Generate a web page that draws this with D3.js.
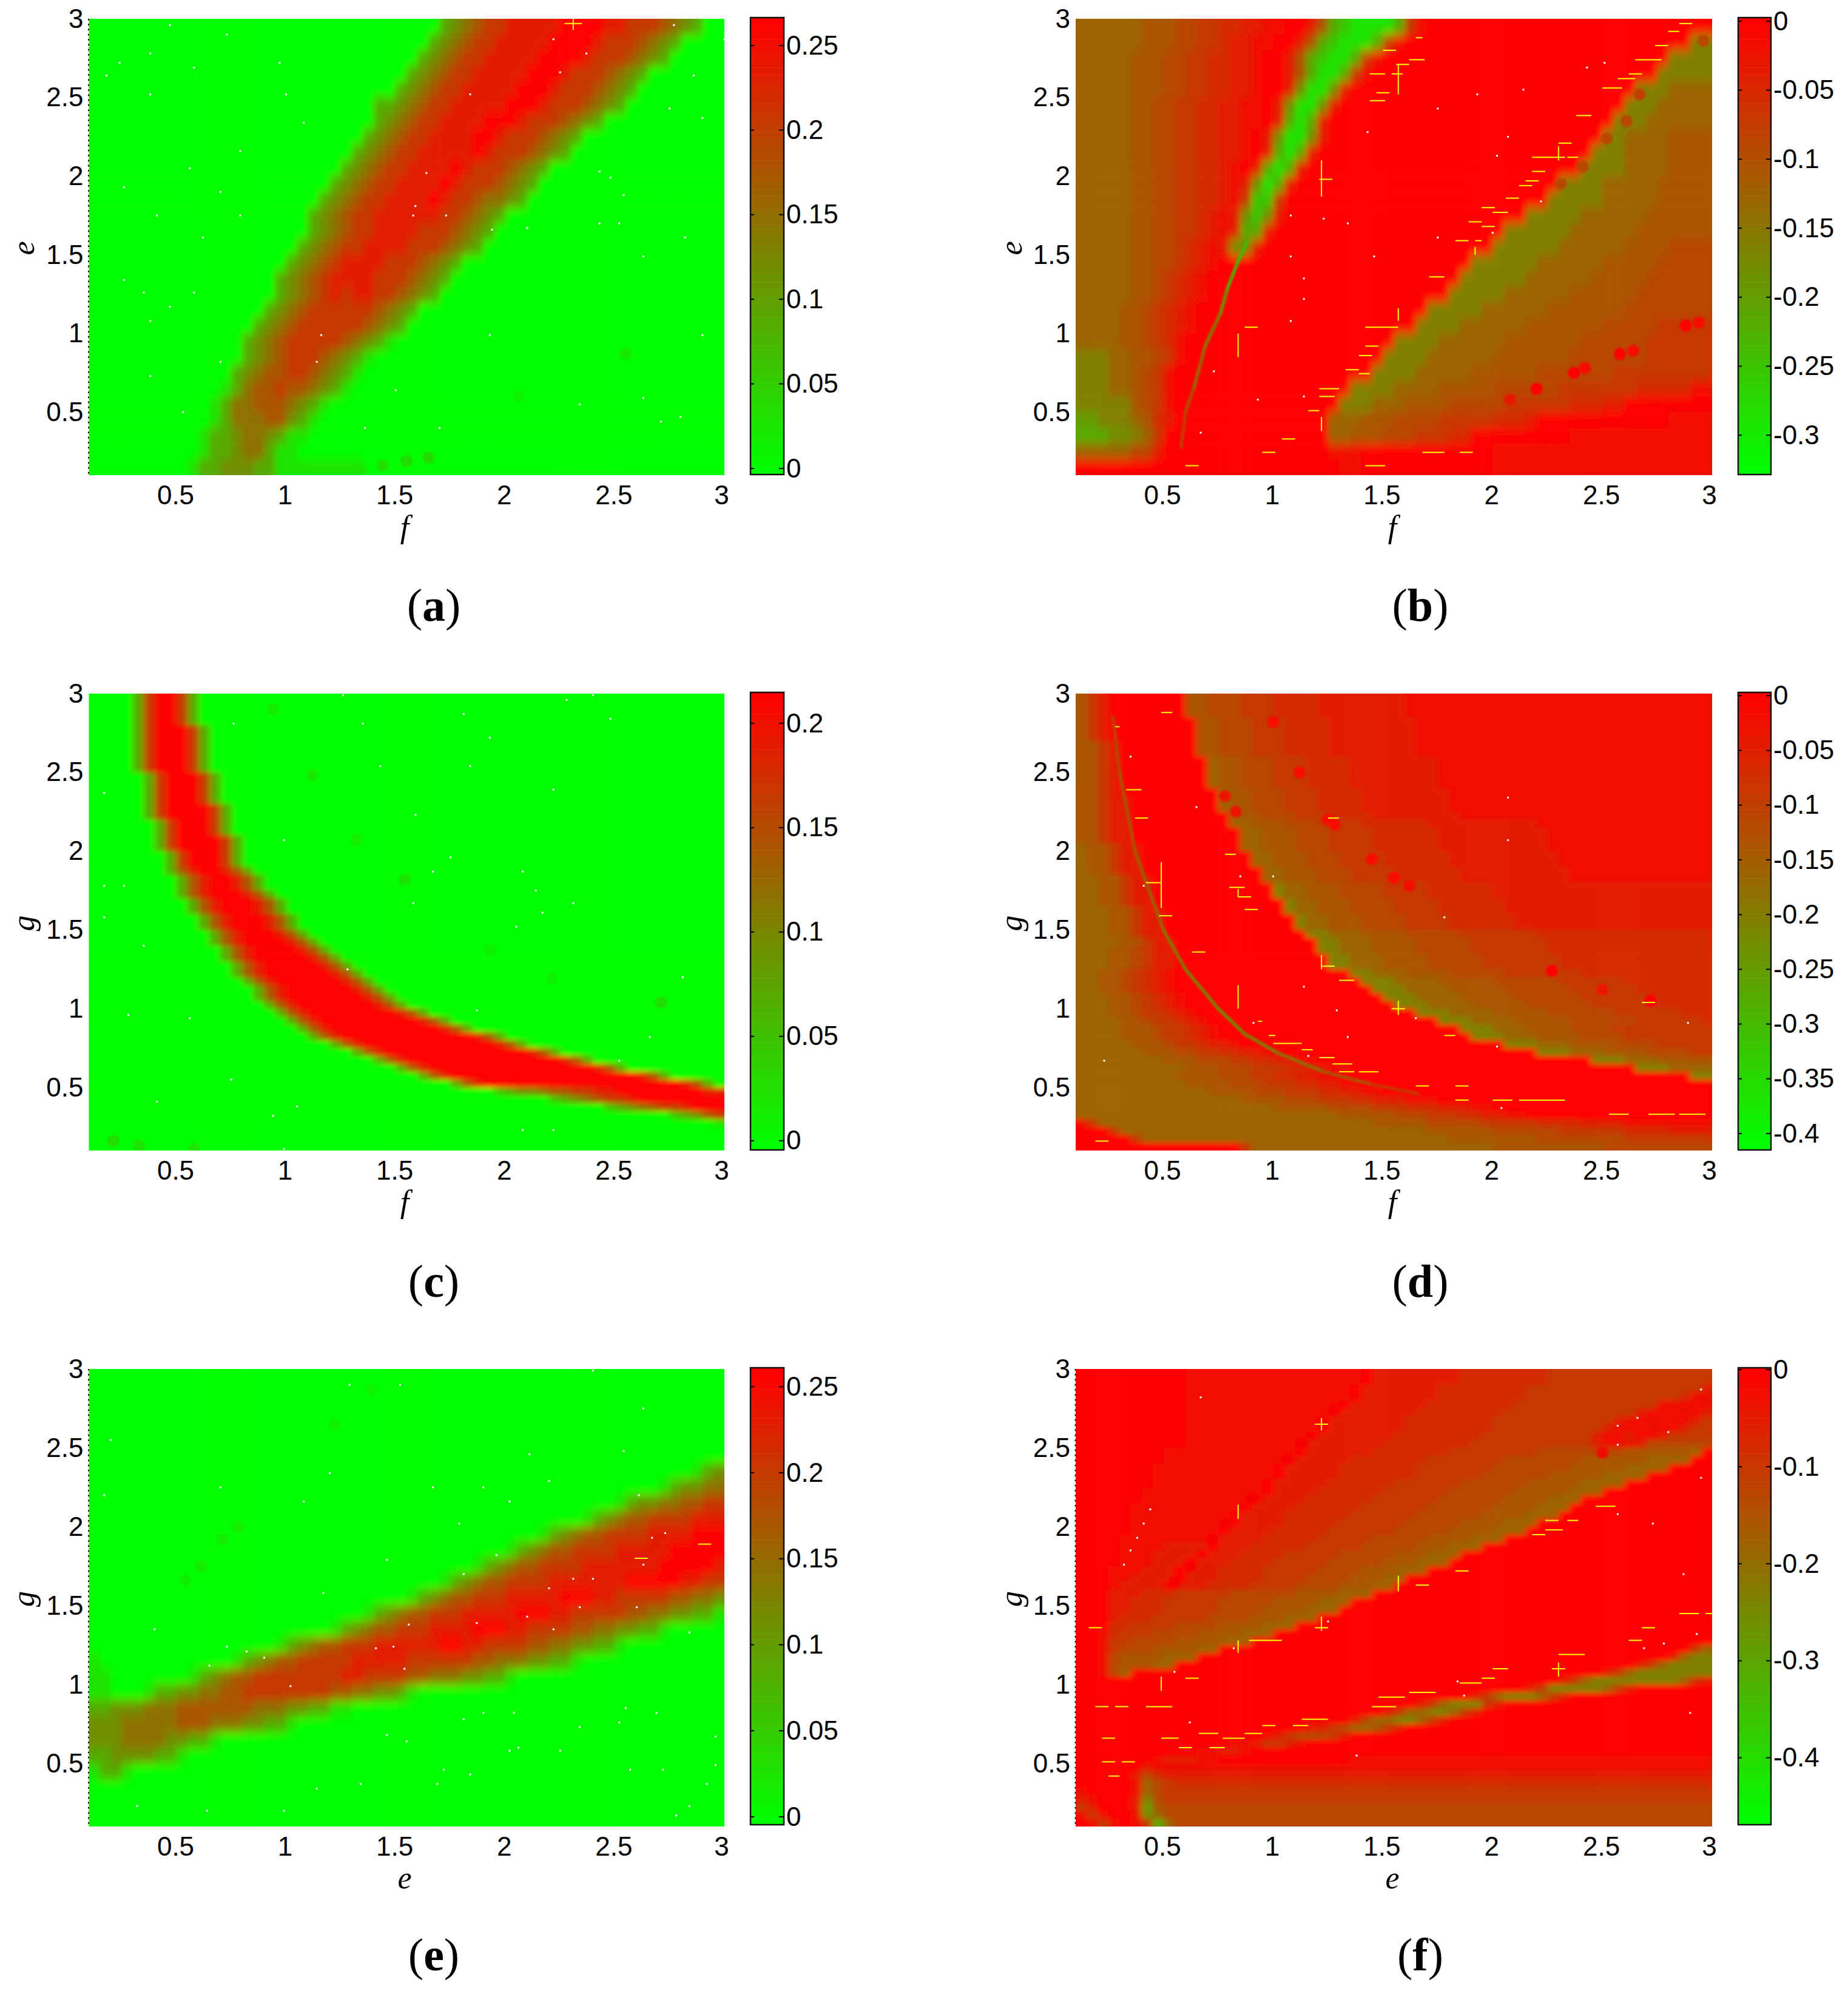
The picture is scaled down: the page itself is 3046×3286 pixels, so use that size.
<!DOCTYPE html>
<html>
<head>
<meta charset="utf-8">
<script src="https://cdn.jsdelivr.net/npm/d3@7"></script>
<style>
    html, body { margin: 0; background: #fff; }
    text { font-family: "Liberation Sans", sans-serif; fill: #000; }
</style>
</head>
<body>
<div id="graph-container"></div>
<script>
// Grid rows run top to bottom, 58 columns from 0.1 to 3.
// Digits are levels 0-9 between the colorbar ends, A-J are half levels (A=0.5 .. I=8.5).
// "9*12" repeats a level, "9*" fills the rest of the row.
const axisTicks = [0.5, 1, 1.5, 2, 2.5, 3]

const gridA = [
    "0*32 345677888889 999 887776543 0*",
    "0*31 3456778888899 99 87776543 0*",
    "0*30 3456778888899 99 87776543 0*",
    "0*29 345677888889 99 87776543 0*",
    "0*28 345677888889 99 87776543 0*",
    "0*26 3345677888889 99 87776543 0*",
    "0*26 34567788889 99 87776543 0*",
    "0*25 34567788889 9 87776543 0*",
    "0*24 34567788888 9 87776543 0*",
    "0*23 3456778888 9 87776543 0*",
    "0*22 3456778888 9 87776543 0*",
    "0*21 3456778888 9 87765543 0*",
    "0*20 345677888 88 8776543 0*",
    "0*20 34567788 88 7776543 0*",
    "0*19 34567788 88 7776543 0*",
    "0*18 3456788 88 7776543 0*",
    "0*17 3456788 88 7776543 0*",
    "0*17 345678 78 8776543 0*",
    "0*16 34567 77 7776543 0*",
    "0*15 34567 77 7776543 0*",
    "0*14 34567 77 7765431 0*",
    "0*14 3456 77 765431 0*",
    "0*13 3456 67 765431 0*",
    "0*12 1356 67 665431 0*",
    "0*11 1355 66 65431 0*",
    "0*11 1355 5 66431 0*",
    "0*10 1334 5 54311 0*",
    "0*10 13345 5 311 0*",
    "0*9 133444331 1111111 0*",
]

const gridB = [
    "F*6 6*3 G*2 7*2 H*2 8*2 I*2 9*2 86321111 37I 9*",
    "F*6 6*3 G*2 7*2 H 8*2 I*2 9*2 8632111 37I 9*26 E*",
    "F*5 6*3 G*2 7*2 H*2 8*2 I 9*2 863211 37I 9*26 E*",
    "F*5 6*3 G*2 7*2 H*2 8*2 I 9*2 86311 37I 9*26 E*",
    "F*5 6*3 G*2 7*2 H*2 8*2 I 9*2 841148 9*26 E*3 F*",
    "F*5 6*2 G*2 7*2 H*2 8*2 I*2 9 841148 9*26 E*3 F*",
    "F*5 6*2 G*2 7*2 H*2 8*2 I*2 9 83138 9*26 E*3 F*",
    "F*5 6*2 G*2 7*2 H*2 8*2 I 9 841148 9*25 E*2 F*4 6*",
    "F*5 6*2 G*2 7*2 H*2 8*2 I 9 83138 9*25 E*3 F*4 6*",
    "F*5 6*2 G*2 7*2 H*2 8 I 9 83138 9*25 E*4 F*4 6*",
    "F*5 6*2 G*2 7*2 H*2 8 I 84138 9*24 E*4 F*5 6*",
    "F*5 6*2 G*2 7*2 H*2 8 I 7227 9*24 E*5 F*5 6*",
    "F*5 6*2 G*2 7*2 H 8 I 84248 9*22 E*5 F*6 6*",
    "F*5 6*2 G*2 7*2 H 8 I 8338 9*21 E*6 F*6 6*",
    "F*5 6*2 G*2 7 H 8 I 8448 9*21 E*6 F*6 6*4 G*",
    "F*5 6*2 G*2 7 H 8 I 9*23 E*6 F*6 6*5 G*",
    "F*5 6*2 G 7 H 8 I 9*23 E*6 F*6 6*5 G*",
    "F*5 6*2 G 7 H 8 I 9*22 E*5 F*6 6*6 G*",
    "F*4 6*2 G 7 H 8 I 9*21 E*5 F*6 6*7 G*",
    "F*4 6*2 G 7 H 8 I 9*20 E*4 F*6 6*7 G*5 7*",
    "F*4 6*2 G 7 H I 9*19 E*4 F*6 6*7 G*6 7*",
    "E*3 F*2 6*2 G 7 I 9*18 E*4 F*6 6*7 G*7 7*",
    "E*3 F*2 6 G 7 I 9*18 E*4 F*5 6*6 G*7 7*",
    "E*3 F*2 6 G 7 I 9*16 E*4 F*4 6*5 G*6 7*7 H*5 I*",
    "E*3 E*2 6 G 7 I 9*15 E*3 F*3 6*4 G*5 7*6 H*3 8*2 9*",
    "D*2 E*2 E F 6 H 8 9*14 F*3 6*3 G*4 7*5 H*3 8 9*12 I*",
    "3*3 4*2 E F 7 9 9*14 F*2 6*3 G*3 7*3 H*2 9*9 I*",
    "F*5 G*2 8 9 9*14 I*3 9*12 I*",
    "9*24 I*2 9*12 I*",
]

const gridC = [
    "0*4 379973 0*",
    "0*4 379973 0*",
    "0*4 379973 0*",
    "0*4 379973 0*",
    "0*4 3799973 0*",
    "0*4 3799973 0*",
    "0*4 3799973 0*",
    "0*4 3799973 0*",
    "0*4 3799973 0*",
    "0*4 3799973 0*",
    "0*5 3799973 0*",
    "0*5 3799973 0*",
    "0*5 3799973 0*",
    "0*5 3799973 0*",
    "0*5 37999973 0*",
    "0*5 37999973 0*",
    "0*6 3799973 0*",
    "0*6 3799973 0*",
    "0*6 37999973 0*",
    "0*6 37999973 0*",
    "0*7 3799973 0*",
    "0*7 3799973 0*",
    "0*7 368 9*2 863 0*",
    "0*8 368 9*2 863 0*",
    "0*8 368 9*2 863 0*",
    "0*8 368 9*3 863 0*",
    "0*9 368 9*3 863 0*",
    "0*9 368 9*3 863 0*",
    "0*10 368 9*3 863 0*",
    "0*10 368 9*3 863 0*",
    "0*11 368 9*3 863 0*",
    "0*11 368 9*4 863 0*",
    "0*12 368 9*4 863 0*",
    "0*12 368 9*5 863 0*",
    "0*13 368 9*5 863 0*",
    "0*13 368 9*6 863 0*",
    "0*14 368 9*6 863 0*",
    "0*15 368 9*6 863 0*",
    "0*15 368 9*7 863 0*",
    "0*16 368 9*7 863 0*",
    "0*17 368 9*8 863 0*",
    "0*18 368 9*9 863 0*",
    "0*19 368 9*10 863 0*",
    "0*20 368 9*12 863 0*",
    "0*22 368 9*12 863 0*",
    "0*24 368 9*13 863 0*",
    "0*26 368 9*14 863 0*",
    "0*28 368 9*15 863 0*",
    "0*30 368 9*17 863 0*",
    "0*33 368 9*18 863 0*",
    "0*37 234456677889 9*7 8*",
    "0*42 23456778 9*",
    "0*47 23456778 9*",
    "0*53 23467",
    "0*57 1",
    "0*",
    "0*",
    "0*",
]

const d1 = "6*2 G*3 7*3 H*4 8*8 I*"
const d2 = "F 6*2 G*3 7*3 H*4 8*8 I*"
const d3r = "F*2 6*3 G*3 7*4 H*6 8*10 I*"
const d4 = "E F*2 6*3 G*4 7*4 H*6 8*"
const d5 = "E*2 F*3 6*4 G*5 7*7 H*"
const d6 = "E*3 F*4 6*5 G*6 7*6 H*"
const d7 = "E*3 F*3 6*4 G*4 7*"
const d8 = "E*3 F*3 6*"

const gridD = [
    `678 9*7 ${d1}`,
    `678 9*7 ${d1}`,
    `678 9*7 ${d1}`,
    `678 9*8 ${d1}`,
    `678 9*8 ${d1}`,
    `678 9*8 ${d1}`,
    `6678 9*7 ${d1}`,
    `6678 9*7 ${d1}`,
    `6678 9*8 ${d2}`,
    `6678 9*8 ${d2}`,
    `6678 9*8 ${d2}`,
    `6678 9*8 ${d2}`,
    `6678 9*9 ${d2}`,
    `66788 9*8 ${d2}`,
    `66788 9*8 ${d2}`,
    `66788 9*9 ${d2}`,
    `66788 9*9 ${d3r}`,
    `66788 9*10 ${d3r}`,
    `66788 9*10 ${d3r}`,
    `F66788 9*9 ${d3r}`,
    `F66788 9*10 ${d3r}`,
    `F66788 9*10 ${d3r}`,
    `F66788 9*11 ${d3r}`,
    `FF66788 9*10 ${d3r}`,
    `FF66788 9*11 ${d4}`,
    `FF66788 9*11 ${d4}`,
    `FF66788 9*12 ${d4}`,
    `FFF66788 9*11 ${d4}`,
    `FFF66788 9*12 ${d4}`,
    `FFF66788 9*12 ${d4}`,
    `FFF66788 9*13 ${d5}`,
    `FFFF66788 9*13 ${d5}`,
    `FFF66G788 9*13 ${d5}`,
    `FFF66G788 9*14 ${d5}`,
    `FFF66G788 9*14 ${d5}`,
    `FF66G7H8I99 9*14 ${d5}`,
    `FF66G7H8I99 9*15 ${d6}`,
    `FF66G7H8I999 9*15 ${d6}`,
    `FFF66G7H8I999 9*15 ${d6}`,
    `FFF66G7H8I999 9*16 ${d6}`,
    `FFF66G77H8I999 9*17 ${d6}`,
    `FFFF66G77H8I999 9*18 ${d6}`,
    `FFFF666G77H8I999 9*19 ${d7}`,
    `FFFF666G77H8I999 9*20 ${d7}`,
    `FFFFF666G77H88I999 9*21 ${d7}`,
    `F*6 6*3 G*2 7*2 H*2 8*2 I*2 9 9*22 ${d7}`,
    `F*8 6*3 G*3 7*2 H*2 8*2 I*2 9 9*24 ${d8}`,
    "F*10 6*3 G*3 7*3 H*2 8*2 I*2 9 9*25 E*3 F*",
    "F*9 6*4 G*3 7*2 H*2 8*2 I*2 9*32 E*",
    "F*10 6*4 G*3 7*3 H*2 8*2 I*2 9*",
    "F*12 6*4 G*3 7*3 H*2 8*2 I*2 9*",
    "F*15 6*4 G*3 7*3 H*2 8*3 I*3 9*",
    "F*18 6*5 G*4 7*3 H*3 8*3 I*2 9*",
    "F*24 6*5 G*3 7*3 H*2 8*2 I*2 9*",
    "I 7 F*25 6*5 G*5 7*5 H*4 8*4 I*",
    "9*3 7 F*28 6*6 G*6 7*6 H*4 8*",
    "9*5 7 F*28 6*8 G*8 7*",
    "9*15 7 F*22 6*10 G*",
]

const gridE = [
    "0*",
    "0*",
    "0*",
    "0*",
    "0*",
    "0*",
    "0*55 134",
    "0*52 134455",
    "0*48 1344556677",
    "0*45 1345667777888",
    "0*41 13456677778888999",
    "0*38 13456677778888 899999",
    "0*35 1345667777888888 8999998",
    "0*32 134566777788888 88999998877",
    "0*29 134566777888 88999887777766554",
    "0*25 1345667778888 89998877777665544331",
    "0*22 134566777888 8999887777665544331 0*",
    "0*17 1345667778888 8899887777665544331 0*",
    "1 0*12 1345667777788 8887777776655544331 0*",
    "1*2 0*7 1345667777777 78877776655544331 0*",
    "1*2 0*3 13344556677 77777766554431 0*",
    "3344455566 66666555443311 0*",
    "4445555566 655544331 0*",
    "444555544331 0*",
    "334444331 0*",
    "1331 0*",
    "0*",
    "0*",
    "0*",
]

const gridF = [
    "9*10 I*16 9 8*8 H*8 7*",
    "9*10 I*16 9 8*8 H*8 7*",
    "9*10 I*15 9 8*7 H*8 7*16 8",
    "9*10 I*15 9 8*7 H*8 7*14 H I*2",
    "9*10 I*14 9 8*7 H*8 7*13 I*5",
    "9*10 I*13 9 8*7 H*8 7*12 8 I*5 8",
    "9*10 I*12 9 8*7 H*8 7*11 8 I*6 8 7",
    "9*10 I*12 9 8*7 H*8 7*10 8 I*6 8 7*",
    "9*10 I*11 9 8*7 H*8 7*10 8 I*5 8 7*",
    "9*10 I*10 9 8*7 H*8 7*11 8 I*3 8 G*",
    "9*8 I*12 9 8*6 H*7 7*8 G*8 6*6 F 9*",
    "9*8 I*11 9 8*5 H*7 7*7 G*7 6*6 F*4 9*",
    "9*7 I*11 9 8*5 H*7 7*7 G*7 6*5 F*4 9*",
    "9*7 I*11 9 8*5 H*7 7*6 G*6 6*5 F*4 9*",
    "9*7 I*10 9 8*5 H*6 7*6 G*6 6*5 F*4 9*",
    "9*6 I*11 9 8*4 H*6 7*6 G*6 6*5 F*3 9*",
    "9*6 I*10 9 8*4 H*6 7*6 G*6 6*4 F*3 9*",
    "9*5 I*10 9 8*4 H*6 7*6 G*6 6*4 F*3 9*",
    "9*5 I*9 9 8*4 H*6 7*6 G*6 6*4 F*3 9*",
    "9*5 I*9 9 8*4 H*5 7*6 G*5 6*4 F*3 9*",
    "9*5 I*8 9 8*4 H*5 7*6 G*5 6*4 F*3 9*",
    "9*4 I*8 9 8*4 H*5 7*5 G*5 6*4 F*3 9*",
    "9*4 I*4 8*4 9 8*3 H*5 7*5 G*5 6*3 F*3 9*",
    "9*4 I*3 8*4 9 8*3 H*4 7*5 G*5 6*3 F*3 9*",
    "9*4 I*3 8*3 9 8*3 H*4 7*5 G*5 6*3 F*3 9*",
    "9*3 I*3 8*3 9 8*3 H*4 7*5 G*4 6*3 F*3 9*",
    "9*3 I*2 8*4 9 8*3 H*4 7*4 G*4 6*3 F*2 9*",
    "9*3 I 8*4 9 8*3 H*4 7*4 G*4 6*3 F*2 9*",
    "9*3 8*3 H*3 7*5 G*6 6*4 F*3 9*",
    "9*3 8*2 H*3 7*5 G*5 6*4 F*3 9*",
    "9*3 8*2 H*3 7*5 G*4 6*4 F*3 9*",
    "9*3 8 H*3 7*5 G*4 6*3 F*3 9*",
    "9*3 H*2 7*4 G*4 6*4 F*3 9*",
    "9*2 I H 7*3 G*4 6*4 F*3 9*",
    "9*2 I 7*2 G*4 6*4 F*3 9*",
    "9*2 I 7 G*3 6*4 F*2 9*43 7 F",
    "9*2 I G 6*4 F*3 9*43 8 F E*2",
    "9*2 I G 6*3 F*2 9*42 8 7 F E*4",
    "9*2 I G F 9*43 8 7 F E*7",
    "9*44 8 7 F E*8 F H 8",
    "9*41 8 7 E*5 F 7 8 9*",
    "9*36 8 7 F E*3 F 7 8 9*",
    "9*31 8 7 F E*3 7 8 9*",
    "9*28 8 7 F*2 E*2 F 7 8 9*",
    "9*25 8 G F*2 E*2 F 7 8 9*",
    "9*21 8*2 7 G F*2 6 7 8 9*",
    "9*17 I 8 7 G*3 7 8 9*",
    "9*14 I*2 8 7*2 8 I 9*",
    "9*11 I*2 8*2 I 9*",
    "9*7 I 8*3 I*2 9*12 I*",
    "9*6 8 I*",
    "9*5 8 G H 8*",
    "9*5 I F G 7 H*",
    "I 9*4 I F G 7*",
    "8 I 9*3 8 E G 7*",
    "7 8 9*3 8 D 6 G*",
    "I 7 I 9*2 I 4 F G*",
    "9 I 7 I 9 I 7 3 F G*",
]

// Thin ridges [x, y, value]
const ridgeB = [[.58, .28, -.07], [.6, .5, -.09], [.64, .66, -.12], [.69, .92, -.14], [.76, 1.13, -.17], [.79, 1.28, -.2], [.84, 1.46, -.23], [.88, 1.58, -.25]]
const ridgeD = [[.27, 2.85, -.1], [.3, 2.5, -.12], [.37, 2, -.14], [.5, 1.5, -.17], [.6, 1.25, -.19], [.75, 1, -.2], [.87, .84, -.19], [1.02, .72, -.16], [1.23, .6, -.12], [1.45, .52, -.08], [1.66, .46, -.04]]

// Yellow dashes [x0, x1, y] and strokes [x, y0, y1] in axis units
const dashesA = [[2.27, 2.35, 2.97]]
const strokesA = [[2.31, 2.93, 3]]
const dashesB = [
    [.6, .66, .16], [1.42, 1.51, .16], [.95, 1.01, .245], [1.68, 1.78, .245], [1.85, 1.91, .245], [1.04, 1.1, .33],
    [1.16, 1.21, .51], [1.21, 1.28, .6], [1.21, 1.3, .65], [1.39, 1.44, .745], [1.33, 1.39, .77], [1.39, 1.45, .86],
    [1.42, 1.48, .92], [1.42, 1.57, 1.04], [.87, .93, 1.04], [1.71, 1.78, 1.36], [1.83, 1.89, 1.59], [1.92, 1.95, 1.59],
    [1.89, 1.95, 1.71], [1.95, 2.01, 1.68], [1.95, 2.01, 1.8], [2, 2.07, 1.77], [2.06, 2.12, 1.86], [2.12, 2.18, 1.94],
    [2.15, 2.21, 1.97], [2.18, 2.24, 2.03], [2.18, 2.33, 2.12], [2.34, 2.39, 2.12], [2.3, 2.36, 2.21], [2.38, 2.45, 2.385],
    [2.5, 2.59, 2.56], [2.57, 2.65, 2.62], [2.62, 2.68, 2.65], [2.65, 2.77, 2.74], [2.74, 2.8, 2.83], [2.8, 2.85, 2.92],
    [2.85, 2.91, 2.97], [1.21, 1.27, 1.98], [1.44, 1.51, 2.48], [1.47, 1.53, 2.53], [1.44, 1.51, 2.65], [1.56, 1.62, 2.71],
    [1.54, 1.59, 2.65], [1.5, 1.56, 2.8], [1.62, 1.69, 2.74], [1.65, 1.68, 2.88],
]
const strokesB = [[1.57, 2.52, 2.71], [1.22, 1.87, 2.1], [.84, .85, 1], [1.57, 1.08, 1.16], [1.22, .38, .47], [2.3, 2.1, 2.19], [1.92, 1.5, 1.55]]
const dashesC = []
const strokesC = []
const dashesD = [
    [.19, .25, .16], [.49, .54, 2.88], [.28, .3, 2.79], [.33, .4, 2.39], [.37, .43, 2.21], [.78, .83, 1.98], [.8, .87, 1.77],
    [.84, .9, 1.71], [.87, .93, 1.63], [.42, .49, 1.8], [.48, .54, 1.59], [.63, .69, 1.36], [1.22, 1.28, 1.27], [1.3, 1.37, 1.18],
    [1.25, 1.3, 2.21], [.93, .95, .92], [.98, 1.01, .83], [1, 1.13, .78], [1.13, 1.18, .74], [1.21, 1.28, .69], [1.27, 1.36, .65],
    [1.3, 1.37, .6], [1.39, 1.48, .6], [1.65, 1.71, .51], [1.83, 1.89, .51], [1.83, 1.89, .42], [2, 2.09, .42], [2.12, 2.33, .42],
    [2.53, 2.62, .33], [2.71, 2.83, .33], [2.85, 2.97, .33], [1.78, 1.83, .83], [1.54, 1.6, 1], [2.68, 2.74, 1.04],
]
const strokesD = [[.49, 1.64, 1.93], [.84, 1, 1.15], [1.57, .96, 1.05], [1.22, 1.25, 1.34], [.84, 1.71, 1.76]]
const dashesE = [[2.59, 2.65, 1.8], [2.88, 2.94, 1.89]]
const strokesE = []
const dashesF = [
    [.16, .22, 1.36], [.19, .25, .86], [.28, .34, .86], [.42, .54, .86], [.22, .28, .66], [.22, .28, .51], [.31, .37, .51],
    [.25, .3, .42], [.49, .57, .66], [.57, .63, .6], [.66, .75, .69], [.71, .78, .6], [.77, .87, .66], [.87, .95, .69],
    [.95, 1.01, .74], [1.09, 1.16, .74], [1.13, 1.25, .78], [.6, .66, 1.04], [.89, 1.04, 1.28], [1.45, 1.56, .86], [1.48, 1.6, .92],
    [1.62, 1.74, .95], [1.85, 1.95, 1.01], [1.95, 2.01, 1.04], [2, 2.07, 1.1], [2.27, 2.33, 1.1], [2.3, 2.42, 1.19], [2.62, 2.68, 1.28],
    [2.68, 2.74, 1.36], [2.85, 2.94, 1.45], [2.97, 3, 1.45], [1.65, 1.71, 1.63], [1.83, 1.89, 1.72], [2.18, 2.24, 1.95], [2.24, 2.32, 1.98],
    [2.24, 2.3, 2.04], [2.34, 2.39, 2.04], [2.47, 2.56, 2.13], [1.19, 1.25, 1.36], [1.19, 1.25, 2.65],
]
const strokesF = [[.49, .96, 1.05], [.84, 1.2, 1.28], [.84, 2.05, 2.14], [1.22, 2.61, 2.69], [1.22, 1.34, 1.43], [1.57, 1.59, 1.69], [2.3, 1.05, 1.14]]

// Isolated white cells [x, y]
const dotsA = [[.47, 2.96], [.73, 2.9], [.38, 2.78], [.24, 2.72], [.58, 2.69], [.97, 2.72], [.18, 2.64], [.38, 2.52], [1, 2.52], [1.08, 2.34], [.79, 2.16], [.56, 2.05], [.26, 1.93], [.7, 1.9], [.41, 1.75], [.79, 1.75], [.62, 1.61], [.26, 1.34], [.35, 1.26], [.58, 1.26], [.47, 1.17], [.38, 1.08], [.7, .82], [.38, .73], [.53, .5], [1.5, .64], [1.36, .4], [1.7, .4], [2.34, .55], [2.63, .59], [2.8, .47], [2.71, .44], [2.77, 2.96], [3, 2.87], [2.86, 2.64], [2.75, 2.43], [2.9, 2.37], [2.43, 2.03], [2.48, 1.99], [2.54, 1.88], [2.43, 1.7], [2.52, 1.7], [2.1, 1.67], [1.94, 1.66], [2.82, 1.61], [2.63, 1.49], [2.9, .99], [1.93, .99], [1.14, .82], [1.16, .99], [1.64, 2.02], [1.59, 1.81], [1.58, 1.75], [1.73, 1.75], [2.22, 2.87], [2.37, 2.78], [2.25, 2.66], [1.84, 2.52]]
const dotsB = [[2.43, 2.69], [2.51, 2.72], [2.14, 2.55], [1.93, 2.52], [1.75, 2.43], [1.43, 2.28], [2.07, 2.25], [2.02, 2.13], [2.22, 1.84], [1.08, 1.75], [1.23, 1.73], [1.34, 1.7], [2, 1.64], [1.75, 1.61], [1.08, 1.49], [1.46, 1.49], [1.14, 1.35], [1.14, 1.22], [1.08, 1.08], [.73, .76], [.93, .58], [.67, .37], [1.14, .6]]
const dotsC = [[1.26, 2.99], [2.28, 2.96], [2.4, 2.99], [1.81, 2.87], [2.48, 2.84], [.76, 2.81], [1.35, 2.81], [1.93, 2.72], [1.43, 2.54], [1.84, 2.54], [2.22, 2.39], [.17, 2.37], [1.59, 2.23], [.99, 2.07], [1.75, 1.96], [2.08, 1.87], [1.67, 1.87], [.17, 1.78], [.26, 1.78], [2.14, 1.75], [1.58, 1.67], [2.31, 1.67], [2.17, 1.61], [.17, 1.58], [2.05, 1.52], [.35, 1.4], [1.28, 1.25], [2.81, 1.2], [.28, .96], [1.87, .99], [.56, .94], [2.66, .82], [2.52, .67], [.75, .55], [.41, .41], [.94, .32], [1.05, .38], [2.08, .23], [2.22, .23], [.99, .11]]
const dotsD = [[2.07, 2.34], [2.07, 2.07], [1, 1.84], [.85, 1.84], [.65, 2.28], [.35, 2.6], [.41, 1.78], [1.78, 1.58], [2.89, .91], [1.29, .99], [1.14, 1.14], [1.65, .94], [1.34, .82], [.23, .67], [2.02, .76], [1.16, .7], [.91, .91], [2.04, .37]]
const dotsE = [[1.29, 2.9], [1.52, 2.9], [2.4, 2.99], [2.63, 2.75], [.2, 2.55], [2.11, 2.46], [2.54, 2.48], [1.2, 2.34], [2.2, 2.29], [.7, 2.25], [1.67, 2.25], [1.9, 2.25], [.17, 2.2], [1.08, 2.16], [2.02, 2.16], [2.61, 2.2], [1.79, 2.02], [2.73, 1.96], [2.67, 1.93], [1.96, 1.82], [1.46, 1.79], [2.63, 1.76], [1.81, 1.7], [2.31, 1.67], [2.4, 1.67], [2.2, 1.61], [1.17, 1.58], [2.6, 1.49], [2.34, 1.49], [2.1, 1.43], [1.87, 1.39], [1.56, 1.38], [2.22, 1.35], [2.84, 1.33], [.4, 1.35], [1.41, 1.23], [1.49, 1.24], [.73, 1.24], [.82, 1.21], [.9, 1.17], [.65, 1.12], [1.54, 1.1], [1.02, .99], [2.55, .85], [1.9, .82], [2.04, .82], [2.69, .82], [1.81, .78], [2.52, .76], [2.34, .73], [1.46, .68], [1.55, .64], [2.96, .67], [2.06, .6], [2.02, .58], [2.25, .58], [2.96, .49], [1.72, .46], [2.72, .46], [2.57, .46], [1.84, .43], [1.34, .37], [1.69, .37], [2.92, .37], [1.14, .34], [.32, .23], [.64, .2], [.99, .2], [2.84, .23], [2.78, .17]]
const dotsF = [[.67, 2.82], [2.95, 2.87], [2.66, 2.69], [2.57, 2.64], [2.8, 2.6], [2.57, 2.52], [2.95, 2.31], [.44, 2.11], [.41, 2.02], [.38, 1.93], [2.73, 2.02], [2.57, 2.08], [.35, 1.85], [.32, 1.76], [2.87, 1.7], [1.25, 1.4], [2.93, 1.32], [2.78, 1.26], [2.69, 1.23], [.82, 1.23], [.55, 1.08], [1.84, 1.02], [1.87, .93], [.62, .76], [2.9, .82], [1.38, .55]]

// Round blobs [x, y, value]
const spotsA = [[1.34, .13, .025], [1.44, .16, .03], [1.55, .19, .035], [1.65, .21, .035], [2.55, .87, .02], [2.06, .6, .01]]
const spotsB = [[2.88, 1.05, 0], [2.94, 1.07, -.01], [2.58, .87, 0], [2.64, .89, -.01], [2.37, .75, 0], [2.42, .78, -.01], [2.2, .65, 0], [2.08, .58, -.03], [2.96, 2.86, -.09], [2.67, 2.52, -.08], [2.61, 2.35, -.09], [2.52, 2.24, -.09], [2.41, 2.06, -.09], [2.31, 1.95, -.09]]
const spotsC = [[.21, .16, .025], [.33, .13, .02], [.58, .11, .02], [2.71, 1.04, .025], [1.54, 1.82, .02], [1.12, 2.48, .015], [.94, 2.9, .012], [1.32, 2.07, .012], [1.93, 1.37, .008], [2.21, 1.19, .008]]
const spotsD = [[2.27, 1.24, 0], [2.72, 1.05, 0], [2.5, 1.12, -.03], [1.25, 2.2, -.01], [1.28, 2.17, -.01], [1.45, 1.95, -.01], [1.55, 1.83, -.01], [1.62, 1.78, -.02], [1, 2.82, -.01], [1.12, 2.5, -.01], [.78, 2.35, -.03], [.83, 2.25, -.03]]
const spotsE = [[.54, 1.66, .012], [.61, 1.75, .015], [.71, 1.92, .015], [.78, 2, .015], [1.22, 2.65, .01], [1.39, 2.87, .008]]
const spotsF = [[.55, 1.65, -.01], [.62, 1.75, -.01], [.72, 1.92, -.01], [.78, 2.02, -.01], [.9, 2.18, -.01], [1.06, 2.43, -.01], [1.13, 2.53, -.01], [1.22, 2.65, -.01], [1.28, 2.75, -.01], [2.5, 2.47, -.03], [2.74, 2.65, -.03], [2.87, 2.75, -.03], [2.97, 2.8, -.03], [2.62, 2.57, -.05]]

const extentA = [-0.0036, 0.2665]
const extentB = [-0.3285, 0.0026]
const extentC = [-0.0044, 0.2148]
const extentD = [-0.415, 0.003]
const extentE = [-0.0046, 0.261]
const extentF = [-0.469, 0.002]

const barTicksA = [0, 0.05, 0.1, 0.15, 0.2, 0.25]
const barTicksB = [-0.3, -0.25, -0.2, -0.15, -0.1, -0.05, 0]
const barTicksC = [0, 0.05, 0.1, 0.15, 0.2]
const barTicksD = [-0.4, -0.35, -0.3, -0.25, -0.2, -0.15, -0.1, -0.05, 0]
const barTicksE = [0, 0.05, 0.1, 0.15, 0.2, 0.25]
const barTicksF = [-0.4, -0.3, -0.2, -0.1, 0]

const width = 3046
const height = 3286
const nCols = 58
const fontSize = 44

const leftCol = { x0: 146.5, x1: 1194, bar0: 1237, bar1: 1292, cx: 667, cap: 715, yLabel: 40 }
const rightCol = { x0: 1773, x1: 2822, bar0: 2865, bar1: 2919, cx: 2295, cap: 2341, yLabel: 1668 }
const row1 = { y0: 31, y1: 783, b0: 29, b1: 782, title: 872, capY: 1023 }
const row2 = { y0: 1143, y1: 1896, b0: 1141, b1: 1895, title: 1984, capY: 2137 }
const row3 = { y0: 2256, y1: 3010, b0: 2254, b1: 3007, title: 3098, capY: 3247 }

const panels = [
    { id: "a", col: leftCol, row: row1, grid: gridA, extent: extentA, barTicks: barTicksA, xName: "f", yName: "e", dashes: dashesA, strokes: strokesA, dots: dotsA, spots: spotsA, ridge: [], dotted: true },
    { id: "b", col: rightCol, row: row1, grid: gridB, extent: extentB, barTicks: barTicksB, xName: "f", yName: "e", dashes: dashesB, strokes: strokesB, dots: dotsB, spots: spotsB, ridge: ridgeB },
    { id: "c", col: leftCol, row: row2, grid: gridC, extent: extentC, barTicks: barTicksC, xName: "f", yName: "g", dashes: dashesC, strokes: strokesC, dots: dotsC, spots: spotsC, ridge: [] },
    { id: "d", col: rightCol, row: row2, grid: gridD, extent: extentD, barTicks: barTicksD, xName: "f", yName: "g", dashes: dashesD, strokes: strokesD, dots: dotsD, spots: spotsD, ridge: ridgeD },
    { id: "e", col: leftCol, row: row3, grid: gridE, extent: extentE, barTicks: barTicksE, xName: "e", yName: "g", dashes: dashesE, strokes: strokesE, dots: dotsE, spots: spotsE, ridge: [], dotted: true },
    { id: "f", col: rightCol, row: row3, grid: gridF, extent: extentF, barTicks: barTicksF, xName: "e", yName: "g", dashes: dashesF, strokes: strokesF, dots: dotsF, spots: spotsF, ridge: [], dotted: true },
]

function parseLevel(ch) {
    const code = ch.charCodeAt(0)
    return code >= 65 ? code - 65 + 0.5 : Number(ch)
}

function parseRow(str) {
    const out = []
    str.split(" ").forEach(tok => {
        if (tok.includes("*")) {
            const [ch, n] = tok.split("*")
            const count = n === "" ? nCols - out.length : Number(n)
            for (let i = 0; i < count; i++) out.push(parseLevel(ch))
        } else {
            for (const ch of tok) out.push(parseLevel(ch))
        }
    })
    while (out.length < nCols) out.push(out[out.length - 1])
    return out.slice(0, nCols)
}

const svg = d3.create("svg")
    .attr("width", width)
    .attr("height", height)
    .attr("viewBox", [0, 0, width, height])

const defs = svg.append("defs")

function drawPanel(p) {
    const { col, row } = p
    const x = d3.scaleLinear().domain([0.1, 3]).range([col.x0, col.x1])
    const y = d3.scaleLinear().domain([0.1, 3]).range([row.y1, row.y0])
    const barY = d3.scaleLinear().domain(p.extent).range([row.b1, row.b0])
    const color = d3.scaleLinear().domain(p.extent).range(["#00ff00", "#ff0000"])
    const levelToValue = d3.scaleLinear().domain([0, 9]).range(p.extent)

    const rows = p.grid.map(parseRow)
    const xBand = d3.scaleBand().domain(d3.range(nCols)).range([col.x0, col.x1])
    const yBand = d3.scaleBand().domain(d3.range(rows.length)).range([row.y0, row.y1])
    const bw = xBand.bandwidth()
    const bh = yBand.bandwidth()

    // Clip and smoothing for the cells.
    defs.append("clipPath").attr("id", `clip-${p.id}`)
        .append("rect")
        .attr("x", col.x0).attr("y", row.y0)
        .attr("width", col.x1 - col.x0).attr("height", row.y1 - row.y0)
    const pad = 60
    defs.append("filter").attr("id", `smooth-${p.id}`)
        .attr("filterUnits", "userSpaceOnUse")
        .attr("x", col.x0 - pad).attr("y", row.y0 - pad)
        .attr("width", col.x1 - col.x0 + 2 * pad).attr("height", row.y1 - row.y0 + 2 * pad)
        .append("feGaussianBlur")
        .attr("stdDeviation", `${bw * 0.3} ${bh * 0.32}`)
    defs.append("filter").attr("id", `soft-${p.id}`)
        .append("feGaussianBlur").attr("stdDeviation", 1.5)

    const plot = svg.append("g").attr("clip-path", `url(#clip-${p.id})`)

    // Add a cell for each grid value. Border cells run past the clip so the blur keeps its colour.
    const cells = plot.append("g").attr("filter", `url(#smooth-${p.id})`)
    rows.forEach((vals, r) => {
        cells.selectAll(null)
            .data(vals)
            .join("rect")
            .attr("x", (d, c) => c === 0 ? col.x0 - pad : xBand(c))
            .attr("y", yBand(r) - (r === 0 ? pad : 0))
            .attr("width", (d, c) => (c === 0 || c === nCols - 1 ? bw + pad : bw) + 0.5)
            .attr("height", bh + 0.5 + (r === 0 || r === rows.length - 1 ? pad : 0))
            .attr("fill", d => color(levelToValue(d)))
    })

    // Add the ridge, one stroke per segment so its colour can follow the values.
    plot.append("g").attr("filter", `url(#soft-${p.id})`)
        .selectAll("line")
        .data(d3.pairs(p.ridge))
        .join("line")
        .attr("x1", d => x(d[0][0]))
        .attr("y1", d => y(d[0][1]))
        .attr("x2", d => x(d[1][0]))
        .attr("y2", d => y(d[1][1]))
        .attr("stroke", d => color(d[0][2]))
        .attr("stroke-width", 6)
        .attr("stroke-linecap", "round")

    // Add the blobs.
    plot.append("g").attr("filter", `url(#soft-${p.id})`)
        .selectAll("circle")
        .data(p.spots)
        .join("circle")
        .attr("cx", d => x(d[0]))
        .attr("cy", d => y(d[1]))
        .attr("r", 10)
        .attr("fill", d => color(d[2]))

    // White cells and yellow marks.
    plot.append("g").selectAll("rect")
        .data(p.dots)
        .join("rect")
        .attr("x", d => x(d[0]) - 1.5)
        .attr("y", d => y(d[1]) - 1.5)
        .attr("width", 3)
        .attr("height", 3)
        .attr("fill", "#fff")
    plot.append("g").selectAll("line")
        .data(p.dashes)
        .join("line")
        .attr("x1", d => x(d[0]))
        .attr("x2", d => x(d[1]))
        .attr("y1", d => y(d[2]))
        .attr("y2", d => y(d[2]))
        .attr("stroke", "#ffff00")
        .attr("stroke-width", 2)
    plot.append("g").selectAll("line")
        .data(p.strokes)
        .join("line")
        .attr("x1", d => x(d[0]))
        .attr("x2", d => x(d[0]))
        .attr("y1", d => y(d[1]))
        .attr("y2", d => y(d[2]))
        .attr("stroke", "#ffff00")
        .attr("stroke-width", 2)

    if (p.dotted) {
        svg.append("line")
            .attr("x1", col.x0 - 0.5).attr("x2", col.x0 - 0.5)
            .attr("y1", row.y0).attr("y2", row.y1)
            .attr("stroke", "#000")
            .attr("stroke-width", 2)
            .attr("stroke-dasharray", "2.5 5.8")
    }

    // Axes.
    const fmt = d => String(d)
    const xAxis = svg.append("g")
        .attr("transform", `translate(0,${row.y1})`)
        .call(d3.axisBottom(x).tickValues(axisTicks).tickFormat(fmt).tickSize(0).tickPadding(17))
    const yAxis = svg.append("g")
        .attr("transform", `translate(${col.x0},0)`)
        .call(d3.axisLeft(y).tickValues(axisTicks).tickFormat(fmt).tickSize(0).tickPadding(9))
    for (const ax of [xAxis, yAxis]) {
        ax.select(".domain").remove()
        ax.selectAll("text")
            .style("font-family", "'Liberation Sans', sans-serif")
            .style("font-size", fontSize + "px")
    }
    xAxis.selectAll("text").attr("dx", d => d === 3 ? -5 : -2)

    svg.append("text")
        .attr("x", col.cx)
        .attr("y", row.title + 14)
        .attr("text-anchor", "middle")
        .style("font-family", "'Liberation Serif', serif")
        .style("font-style", "italic")
        .style("font-size", "52px")
        .text(p.xName)
    svg.append("text")
        .attr("transform", `translate(${col.yLabel},${(row.y0 + row.y1) / 2 + 2}) rotate(-90)`)
        .attr("text-anchor", "middle")
        .attr("dy", "0.3em")
        .style("font-family", "'Liberation Serif', serif")
        .style("font-style", "italic")
        .style("font-size", "52px")
        .text(p.yName)

    // Colorbar.
    const bar = svg.append("g")
    const steps = d3.range(64)
    const stepH = (row.b1 - row.b0) / steps.length
    const toValue = d3.scaleLinear().domain([0, steps.length - 1]).range(p.extent)
    bar.selectAll("rect")
        .data(steps)
        .join("rect")
        .attr("x", col.bar0)
        .attr("y", d => row.b1 - (d + 1) * stepH)
        .attr("width", col.bar1 - col.bar0)
        .attr("height", stepH + 0.5)
        .attr("fill", d => color(toValue(d)))
    bar.append("rect")
        .attr("x", col.bar0).attr("y", row.b0)
        .attr("width", col.bar1 - col.bar0).attr("height", row.b1 - row.b0)
        .attr("fill", "none")
        .attr("stroke", "#111")
        .attr("stroke-width", 2.5)

    const barAxis = svg.append("g")
        .attr("transform", `translate(${col.bar1},0)`)
        .call(d3.axisRight(barY).tickValues(p.barTicks).tickFormat(fmt).tickSize(0).tickPadding(4))
    barAxis.select(".domain").remove()
    barAxis.selectAll("text")
        .style("font-family", "'Liberation Sans', sans-serif")
        .style("font-size", fontSize + "px")
    bar.selectAll("line.inner")
        .data(p.barTicks.flatMap(t => [[col.bar0, col.bar0 + 6, t], [col.bar1 - 8, col.bar1, t]]))
        .join("line")
        .attr("class", "inner")
        .attr("x1", d => d[0])
        .attr("x2", d => d[1])
        .attr("y1", d => barY(d[2]))
        .attr("y2", d => barY(d[2]))
        .attr("stroke", "#000")
        .attr("stroke-width", 2)

    // Caption.
    const cap = svg.append("text")
        .attr("x", col.cap)
        .attr("y", row.capY)
        .attr("text-anchor", "middle")
        .style("font-family", "'Liberation Serif', serif")
        .style("font-size", "76px")
    cap.append("tspan").text("(")
    cap.append("tspan").style("font-weight", "bold").text(p.id)
    cap.append("tspan").text(")")
}

panels.forEach(drawPanel)

document.getElementById("graph-container").appendChild(svg.node())
</script>
</body>
</html>
